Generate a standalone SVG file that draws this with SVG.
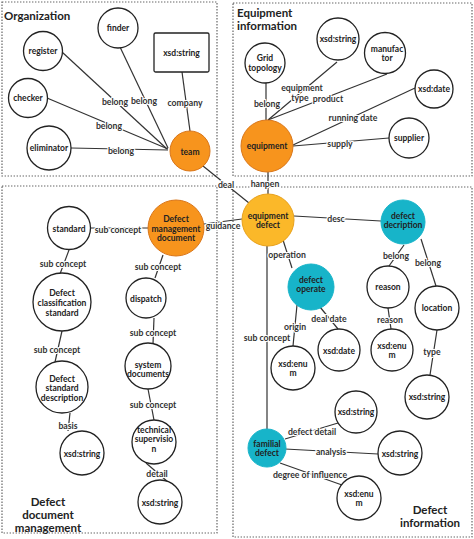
<svg xmlns="http://www.w3.org/2000/svg" width="474" height="539" viewBox="0 0 474 539">
<style>
.box{fill:none;stroke:#666;stroke-width:1.2;stroke-dasharray:1.4 1.6}
.title{font-family:Lato,"Liberation Sans",sans-serif;font-weight:bold;font-size:11.5px;fill:#222}
.n{fill:#fff;stroke:#222;stroke-width:1.3}
.or{fill:#f7941d;stroke:#d9761a;stroke-width:1}
.gd{fill:#fbb829;stroke:#e8a11c;stroke-width:1}
.cy{fill:#17b4c9;stroke:#17b4c9;stroke-width:1}
.t{font-family:Lato,"Liberation Sans",sans-serif;font-weight:bold;font-size:8.5px;fill:#222;text-anchor:middle;dominant-baseline:central}
.e{stroke:#333;stroke-width:1.2;fill:none}
.l{font-family:Lato,"Liberation Sans",sans-serif;font-weight:bold;font-size:8.7px;fill:#333;text-anchor:middle;dominant-baseline:central;stroke:#fff;stroke-width:2.2;paint-order:stroke;stroke-linejoin:round}
</style>
<rect width="474" height="539" fill="#fff"/>
<g id="areas">
<rect class="box" x="2" y="2" width="215" height="174"/>
<rect class="box" x="233" y="3" width="239" height="173"/>
<rect class="box" x="2" y="186" width="215" height="347"/>
<rect class="box" x="233" y="187" width="239" height="350"/>
<text class="title" x="4" y="20">Organization</text>
<text class="title" x="237" y="17">Equipment</text>
<text class="title" x="237" y="30">information</text>
<text class="title" x="48" y="506" text-anchor="middle">Defect</text>
<text class="title" x="48" y="519" text-anchor="middle">document</text>
<text class="title" x="48" y="532" text-anchor="middle">management</text>
<text class="title" x="430" y="514" text-anchor="middle">Defect</text>
<text class="title" x="430" y="527" text-anchor="middle">information</text>
</g>
<g id="connectors">
<line class="e" x1="62" y1="52" x2="167" y2="149"/>
<line class="e" x1="120" y1="47" x2="168" y2="148"/>
<line class="e" x1="47" y1="98" x2="168" y2="149"/>
<line class="e" x1="71" y1="148" x2="168" y2="150"/>
<line class="e" x1="182" y1="72" x2="190" y2="131"/>
<line class="e" x1="203" y1="166" x2="249" y2="203"/>
<line class="e" x1="266" y1="83" x2="266" y2="120"/>
<line class="e" x1="337" y1="62" x2="268" y2="120"/>
<line class="e" x1="387" y1="74" x2="268" y2="120"/>
<line class="e" x1="415" y1="88" x2="293" y2="145"/>
<line class="e" x1="389" y1="138" x2="293" y2="146"/>
<line class="e" x1="268" y1="172" x2="268" y2="194"/>
<line class="e" x1="294" y1="216" x2="381" y2="221"/>
<line class="e" x1="283" y1="240" x2="292" y2="268"/>
<line class="e" x1="267" y1="246" x2="267" y2="429"/>
<line class="e" x1="404" y1="245" x2="389" y2="266"/>
<line class="e" x1="421" y1="239" x2="436" y2="286"/>
<line class="e" x1="388" y1="308" x2="391" y2="329"/>
<line class="e" x1="437" y1="330" x2="430" y2="375"/>
<line class="e" x1="297" y1="305" x2="293" y2="346"/>
<line class="e" x1="320" y1="307" x2="338" y2="329"/>
<line class="e" x1="285" y1="439" x2="338" y2="423"/>
<line class="e" x1="285" y1="449" x2="378" y2="454"/>
<line class="e" x1="280" y1="463" x2="342" y2="485"/>
<line class="e" x1="90" y1="228" x2="148" y2="228"/>
<line class="e" x1="69" y1="250" x2="60" y2="274"/>
<line class="e" x1="163" y1="255" x2="155" y2="278"/>
<line class="e" x1="62" y1="331" x2="55" y2="362"/>
<line class="e" x1="154" y1="318" x2="153" y2="344"/>
<line class="e" x1="148" y1="389" x2="154" y2="420"/>
<line class="e" x1="70" y1="413" x2="68" y2="431"/>
<line class="e" x1="146" y1="463" x2="168" y2="482"/>
<line class="e" x1="204" y1="224" x2="242" y2="219"/>
<text class="l" x="115" y="101">belong</text>
<text class="l" x="144" y="100">belong</text>
<text class="l" x="109" y="125">belong</text>
<text class="l" x="121" y="150">belong</text>
<text class="l" x="185" y="102">company</text>
<text class="l" x="226" y="184">deal</text>
<text class="l" x="267" y="103">belong</text>
<text class="l" x="302" y="87.5">equipment</text>
<text class="l" x="300" y="97.5">type</text>
<text class="l" x="328" y="98">product</text>
<text class="l" x="353" y="117">running date</text>
<text class="l" x="340" y="143">supply</text>
<text class="l" x="265" y="183">hanpen</text>
<text class="l" x="336" y="218">desc</text>
<text class="l" x="287" y="254">operation</text>
<text class="l" x="267" y="337">sub concept</text>
<text class="l" x="396" y="255">belong</text>
<text class="l" x="428" y="262">belong</text>
<text class="l" x="390" y="319">reason</text>
<text class="l" x="432" y="351">type</text>
<text class="l" x="295" y="326">origin</text>
<text class="l" x="329" y="318">deal date</text>
<text class="l" x="312" y="431">defect detail</text>
<text class="l" x="331" y="451">analysis</text>
<text class="l" x="310" y="474">degree of influence</text>
<text class="l" x="118" y="229">sub concept</text>
<text class="l" x="63" y="263">sub concept</text>
<text class="l" x="158" y="266">sub concept</text>
<text class="l" x="57" y="349">sub concept</text>
<text class="l" x="153" y="332">sub concept</text>
<text class="l" x="153" y="404">sub concept</text>
<text class="l" x="68" y="425">basis</text>
<text class="l" x="157" y="473">detail</text>
<text class="l" x="223" y="225">guidance</text>
</g>
<g id="n-finder"><circle class="n" cx="118" cy="28" r="20"/><text class="t" x="118" y="28">finder</text></g>
<g id="n-register"><circle class="n" cx="43" cy="51" r="19.5"/><text class="t" x="43" y="51">register</text></g>
<g id="n-checker"><circle class="n" cx="28" cy="98" r="19.5"/><text class="t" x="28" y="98">checker</text></g>
<g id="n-eliminator"><circle class="n" cx="49" cy="148" r="22"/><text class="t" x="49" y="148">eliminator</text></g>
<g id="n-org-string"><rect class="n" x="154" y="33" width="55" height="39" rx="1.5"/><text class="t" x="181.5" y="53">xsd:string</text></g>
<g id="n-team"><circle class="or" cx="190" cy="151" r="20"/><text class="t" x="190" y="152">team</text></g>
<g id="n-grid"><circle class="n" cx="265" cy="63" r="20"/><text class="t" x="265" y="58.2">Grid</text><text class="t" x="265" y="67.8">topology</text></g>
<g id="n-eq-string"><circle class="n" cx="338" cy="39" r="21"/><text class="t" x="338" y="39">xsd:string</text></g>
<g id="n-manufactor"><circle class="n" cx="385" cy="53" r="20.5"/><text class="t" x="387" y="48.5">manufac</text><text class="t" x="387" y="58.1">tor</text></g>
<g id="n-eq-date"><circle class="n" cx="434" cy="89" r="19"/><text class="t" x="434" y="89">xsd:date</text></g>
<g id="n-supplier"><circle class="n" cx="409" cy="138" r="20"/><text class="t" x="409" y="138">supplier</text></g>
<g id="n-equipment"><circle class="or" cx="267" cy="146" r="26"/><text class="t" x="267" y="146">equipment</text></g>
<g id="n-standard"><circle class="n" cx="69" cy="228" r="21.5"/><text class="t" x="69" y="229">standard</text></g>
<g id="n-ddoc"><circle class="or" cx="176" cy="228" r="28"/><text class="t" x="176" y="219.2">Defect</text><text class="t" x="176" y="228.8">management</text><text class="t" x="176" y="238.4">document</text></g>
<g id="n-dclass"><circle class="n" cx="62" cy="302" r="29"/><text class="t" x="62" y="293.4">Defect</text><text class="t" x="62" y="303">classification</text><text class="t" x="62" y="312.6">standard</text></g>
<g id="n-dispatch"><circle class="n" cx="146" cy="298" r="20"/><text class="t" x="146" y="299">dispatch</text></g>
<g id="n-sysdoc"><circle class="n" cx="148" cy="366" r="23"/><text class="t" x="148" y="364.6">system</text><text class="t" x="148" y="374.2">documents</text></g>
<g id="n-dstd"><circle class="n" cx="62" cy="387" r="26"/><text class="t" x="62" y="378.6">Defect</text><text class="t" x="62" y="388.2">standard</text><text class="t" x="62" y="397.8">description</text></g>
<g id="n-basis-string"><circle class="n" cx="82" cy="453" r="22"/><text class="t" x="82" y="454">xsd:string</text></g>
<g id="n-techsup"><circle class="n" cx="154" cy="442" r="22"/><text class="t" x="154" y="429.6">technical</text><text class="t" x="154" y="439.2">supervisio</text><text class="t" x="154" y="448.8">n</text></g>
<g id="n-detail-string"><circle class="n" cx="160" cy="502" r="22"/><text class="t" x="160" y="503">xsd:string</text></g>
<g id="n-eqdefect"><circle class="gd" cx="268" cy="220" r="26"/><text class="t" x="268" y="215.5">equipment</text><text class="t" x="268" y="225.1">defect</text></g>
<g id="n-ddesc"><circle class="cy" cx="403" cy="222" r="22"/><text class="t" x="403" y="215.5">defect</text><text class="t" x="403" y="225.1">decription</text></g>
<g id="n-doperate"><circle class="cy" cx="311" cy="287" r="23"/><text class="t" x="311" y="279.5">defect</text><text class="t" x="311" y="289.1">operate</text></g>
<g id="n-reason"><circle class="n" cx="388" cy="287" r="21"/><text class="t" x="388" y="287">reason</text></g>
<g id="n-location"><circle class="n" cx="437" cy="308" r="22"/><text class="t" x="437" y="308">location</text></g>
<g id="n-reason-enum"><circle class="n" cx="392" cy="350" r="21"/><text class="t" x="392" y="345.5">xsd:enu</text><text class="t" x="392" y="355.1">m</text></g>
<g id="n-deal-date"><circle class="n" cx="339" cy="350" r="21"/><text class="t" x="339" y="351">xsd:date</text></g>
<g id="n-origin-enum"><circle class="n" cx="293" cy="368" r="22"/><text class="t" x="293" y="363.5">xsd:enu</text><text class="t" x="293" y="373.1">m</text></g>
<g id="n-type-string"><circle class="n" cx="427" cy="397" r="22"/><text class="t" x="427" y="397">xsd:string</text></g>
<g id="n-detail-string2"><circle class="n" cx="356" cy="412" r="21"/><text class="t" x="356" y="412">xsd:string</text></g>
<g id="n-familial"><circle class="cy" cx="267" cy="448" r="19"/><text class="t" x="267" y="443.5">familial</text><text class="t" x="267" y="453.1">defect</text></g>
<g id="n-analysis-string"><circle class="n" cx="400" cy="453" r="22"/><text class="t" x="400" y="454">xsd:string</text></g>
<g id="n-degree-enum"><circle class="n" cx="359" cy="498" r="22"/><text class="t" x="359" y="493.5">xsd:enu</text><text class="t" x="359" y="503.1">m</text></g>
</svg>
